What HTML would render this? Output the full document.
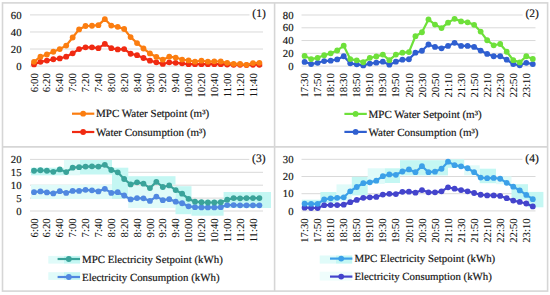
<!DOCTYPE html>
<html><head><meta charset="utf-8"><style>
html,body{margin:0;padding:0;background:#fff;width:550px;height:295px;overflow:hidden}
svg{display:block}
text{stroke:#141414;stroke-width:0.18px;text-rendering:geometricPrecision}
text.r{stroke-width:0.05px}
</style></head><body>
<svg width="550" height="295" viewBox="0 0 550 295" font-family='"Liberation Serif", serif' fill="#141414">
<rect x="0" y="0" width="550" height="295" fill="#ffffff"/>
<line x1="30" y1="66.1" x2="263" y2="66.1" stroke="#d9d9d9" stroke-width="1"/>
<line x1="30" y1="49.03" x2="263" y2="49.03" stroke="#d9d9d9" stroke-width="1"/>
<line x1="30" y1="31.97" x2="263" y2="31.97" stroke="#d9d9d9" stroke-width="1"/>
<line x1="30" y1="14.9" x2="263" y2="14.9" stroke="#d9d9d9" stroke-width="1"/>
<text x="21.5" y="69.70" text-anchor="end" font-size="10.7">0</text>
<text x="21.5" y="52.63" text-anchor="end" font-size="10.7">20</text>
<text x="21.5" y="35.57" text-anchor="end" font-size="10.7">40</text>
<text x="21.5" y="18.50" text-anchor="end" font-size="10.7">60</text>
<text transform="translate(37.60,73.2) rotate(-90)" text-anchor="end" font-size="10.7" class="r">6:00</text>
<text transform="translate(50.48,73.2) rotate(-90)" text-anchor="end" font-size="10.7" class="r">6:20</text>
<text transform="translate(63.36,73.2) rotate(-90)" text-anchor="end" font-size="10.7" class="r">6:40</text>
<text transform="translate(76.24,73.2) rotate(-90)" text-anchor="end" font-size="10.7" class="r">7:00</text>
<text transform="translate(89.12,73.2) rotate(-90)" text-anchor="end" font-size="10.7" class="r">7:20</text>
<text transform="translate(102.00,73.2) rotate(-90)" text-anchor="end" font-size="10.7" class="r">7:40</text>
<text transform="translate(114.88,73.2) rotate(-90)" text-anchor="end" font-size="10.7" class="r">8:00</text>
<text transform="translate(127.76,73.2) rotate(-90)" text-anchor="end" font-size="10.7" class="r">8:20</text>
<text transform="translate(140.64,73.2) rotate(-90)" text-anchor="end" font-size="10.7" class="r">8:40</text>
<text transform="translate(153.52,73.2) rotate(-90)" text-anchor="end" font-size="10.7" class="r">9:00</text>
<text transform="translate(166.40,73.2) rotate(-90)" text-anchor="end" font-size="10.7" class="r">9:20</text>
<text transform="translate(179.28,73.2) rotate(-90)" text-anchor="end" font-size="10.7" class="r">9:40</text>
<text transform="translate(192.16,73.2) rotate(-90)" text-anchor="end" font-size="10.7" class="r">10:00</text>
<text transform="translate(205.04,73.2) rotate(-90)" text-anchor="end" font-size="10.7" class="r">10:20</text>
<text transform="translate(217.92,73.2) rotate(-90)" text-anchor="end" font-size="10.7" class="r">10:40</text>
<text transform="translate(230.80,73.2) rotate(-90)" text-anchor="end" font-size="10.7" class="r">11:00</text>
<text transform="translate(243.68,73.2) rotate(-90)" text-anchor="end" font-size="10.7" class="r">11:20</text>
<text transform="translate(256.56,73.2) rotate(-90)" text-anchor="end" font-size="10.7" class="r">11:40</text>
<polyline points="34.00,64.39 40.44,61.83 46.88,60.55 53.32,59.27 59.76,58.42 66.20,56.71 72.64,53.30 79.08,49.03 85.52,47.33 91.96,47.33 98.40,48.18 104.84,43.91 111.28,48.18 117.72,49.46 124.16,49.03 130.60,53.73 137.04,55.18 143.48,57.99 149.92,60.64 156.36,62.35 162.80,63.97 169.24,62.35 175.68,62.86 182.12,63.37 188.56,64.22 195.00,64.22 201.44,64.22 207.88,64.22 214.32,64.22 220.76,64.22 227.20,64.56 233.64,64.73 240.08,64.73 246.52,65.08 252.96,64.73 259.40,64.73" fill="none" stroke="#f02a12" stroke-width="2.2" stroke-linejoin="round"/>
<circle cx="34.00" cy="64.39" r="2.9" fill="#f02a12"/>
<circle cx="40.44" cy="61.83" r="2.9" fill="#f02a12"/>
<circle cx="46.88" cy="60.55" r="2.9" fill="#f02a12"/>
<circle cx="53.32" cy="59.27" r="2.9" fill="#f02a12"/>
<circle cx="59.76" cy="58.42" r="2.9" fill="#f02a12"/>
<circle cx="66.20" cy="56.71" r="2.9" fill="#f02a12"/>
<circle cx="72.64" cy="53.30" r="2.9" fill="#f02a12"/>
<circle cx="79.08" cy="49.03" r="2.9" fill="#f02a12"/>
<circle cx="85.52" cy="47.33" r="2.9" fill="#f02a12"/>
<circle cx="91.96" cy="47.33" r="2.9" fill="#f02a12"/>
<circle cx="98.40" cy="48.18" r="2.9" fill="#f02a12"/>
<circle cx="104.84" cy="43.91" r="2.9" fill="#f02a12"/>
<circle cx="111.28" cy="48.18" r="2.9" fill="#f02a12"/>
<circle cx="117.72" cy="49.46" r="2.9" fill="#f02a12"/>
<circle cx="124.16" cy="49.03" r="2.9" fill="#f02a12"/>
<circle cx="130.60" cy="53.73" r="2.9" fill="#f02a12"/>
<circle cx="137.04" cy="55.18" r="2.9" fill="#f02a12"/>
<circle cx="143.48" cy="57.99" r="2.9" fill="#f02a12"/>
<circle cx="149.92" cy="60.64" r="2.9" fill="#f02a12"/>
<circle cx="156.36" cy="62.35" r="2.9" fill="#f02a12"/>
<circle cx="162.80" cy="63.97" r="2.9" fill="#f02a12"/>
<circle cx="169.24" cy="62.35" r="2.9" fill="#f02a12"/>
<circle cx="175.68" cy="62.86" r="2.9" fill="#f02a12"/>
<circle cx="182.12" cy="63.37" r="2.9" fill="#f02a12"/>
<circle cx="188.56" cy="64.22" r="2.9" fill="#f02a12"/>
<circle cx="195.00" cy="64.22" r="2.9" fill="#f02a12"/>
<circle cx="201.44" cy="64.22" r="2.9" fill="#f02a12"/>
<circle cx="207.88" cy="64.22" r="2.9" fill="#f02a12"/>
<circle cx="214.32" cy="64.22" r="2.9" fill="#f02a12"/>
<circle cx="220.76" cy="64.22" r="2.9" fill="#f02a12"/>
<circle cx="227.20" cy="64.56" r="2.9" fill="#f02a12"/>
<circle cx="233.64" cy="64.73" r="2.9" fill="#f02a12"/>
<circle cx="240.08" cy="64.73" r="2.9" fill="#f02a12"/>
<circle cx="246.52" cy="65.08" r="2.9" fill="#f02a12"/>
<circle cx="252.96" cy="64.73" r="2.9" fill="#f02a12"/>
<circle cx="259.40" cy="64.73" r="2.9" fill="#f02a12"/>
<polyline points="34.00,61.83 40.44,56.71 46.88,54.49 53.32,51.76 59.76,49.03 66.20,45.62 72.64,37.51 79.08,29.41 85.52,25.99 91.96,25.74 98.40,25.14 104.84,19.17 111.28,25.57 117.72,26.85 124.16,28.98 130.60,37.09 137.04,43.06 143.48,48.52 149.92,53.47 156.36,56.97 162.80,59.70 169.24,56.71 175.68,57.57 182.12,59.53 188.56,60.47 195.00,61.66 201.44,60.72 207.88,61.66 214.32,61.32 220.76,61.49 227.20,62.86 233.64,63.88 240.08,63.97 246.52,64.82 252.96,63.11 259.40,62.86" fill="none" stroke="#fb7d10" stroke-width="2.2" stroke-linejoin="round"/>
<circle cx="34.00" cy="61.83" r="2.9" fill="#fb7d10"/>
<circle cx="40.44" cy="56.71" r="2.9" fill="#fb7d10"/>
<circle cx="46.88" cy="54.49" r="2.9" fill="#fb7d10"/>
<circle cx="53.32" cy="51.76" r="2.9" fill="#fb7d10"/>
<circle cx="59.76" cy="49.03" r="2.9" fill="#fb7d10"/>
<circle cx="66.20" cy="45.62" r="2.9" fill="#fb7d10"/>
<circle cx="72.64" cy="37.51" r="2.9" fill="#fb7d10"/>
<circle cx="79.08" cy="29.41" r="2.9" fill="#fb7d10"/>
<circle cx="85.52" cy="25.99" r="2.9" fill="#fb7d10"/>
<circle cx="91.96" cy="25.74" r="2.9" fill="#fb7d10"/>
<circle cx="98.40" cy="25.14" r="2.9" fill="#fb7d10"/>
<circle cx="104.84" cy="19.17" r="2.9" fill="#fb7d10"/>
<circle cx="111.28" cy="25.57" r="2.9" fill="#fb7d10"/>
<circle cx="117.72" cy="26.85" r="2.9" fill="#fb7d10"/>
<circle cx="124.16" cy="28.98" r="2.9" fill="#fb7d10"/>
<circle cx="130.60" cy="37.09" r="2.9" fill="#fb7d10"/>
<circle cx="137.04" cy="43.06" r="2.9" fill="#fb7d10"/>
<circle cx="143.48" cy="48.52" r="2.9" fill="#fb7d10"/>
<circle cx="149.92" cy="53.47" r="2.9" fill="#fb7d10"/>
<circle cx="156.36" cy="56.97" r="2.9" fill="#fb7d10"/>
<circle cx="162.80" cy="59.70" r="2.9" fill="#fb7d10"/>
<circle cx="169.24" cy="56.71" r="2.9" fill="#fb7d10"/>
<circle cx="175.68" cy="57.57" r="2.9" fill="#fb7d10"/>
<circle cx="182.12" cy="59.53" r="2.9" fill="#fb7d10"/>
<circle cx="188.56" cy="60.47" r="2.9" fill="#fb7d10"/>
<circle cx="195.00" cy="61.66" r="2.9" fill="#fb7d10"/>
<circle cx="201.44" cy="60.72" r="2.9" fill="#fb7d10"/>
<circle cx="207.88" cy="61.66" r="2.9" fill="#fb7d10"/>
<circle cx="214.32" cy="61.32" r="2.9" fill="#fb7d10"/>
<circle cx="220.76" cy="61.49" r="2.9" fill="#fb7d10"/>
<circle cx="227.20" cy="62.86" r="2.9" fill="#fb7d10"/>
<circle cx="233.64" cy="63.88" r="2.9" fill="#fb7d10"/>
<circle cx="240.08" cy="63.97" r="2.9" fill="#fb7d10"/>
<circle cx="246.52" cy="64.82" r="2.9" fill="#fb7d10"/>
<circle cx="252.96" cy="63.11" r="2.9" fill="#fb7d10"/>
<circle cx="259.40" cy="62.86" r="2.9" fill="#fb7d10"/>
<line x1="72" y1="113.7" x2="94.3" y2="113.7" stroke="#fb7d10" stroke-width="2.2"/>
<circle cx="83.15" cy="113.7" r="2.9" fill="#fb7d10"/>
<text x="96" y="117.40" font-size="11.0">MPC Water Setpoint (m³)</text>
<line x1="72" y1="132" x2="94.3" y2="132" stroke="#f02a12" stroke-width="2.2"/>
<circle cx="83.15" cy="132" r="2.9" fill="#f02a12"/>
<text x="96" y="135.70" font-size="11.0">Water Consumption (m³)</text>
<rect x="249.5" y="7" width="18.5" height="13" fill="#fff"/>
<text x="252.3" y="17" font-size="11.5">(1)</text>
<line x1="301.5" y1="66.1" x2="535.5" y2="66.1" stroke="#d9d9d9" stroke-width="1"/>
<line x1="301.5" y1="53.3" x2="535.5" y2="53.3" stroke="#d9d9d9" stroke-width="1"/>
<line x1="301.5" y1="40.55" x2="535.5" y2="40.55" stroke="#d9d9d9" stroke-width="1"/>
<line x1="301.5" y1="27.8" x2="535.5" y2="27.8" stroke="#d9d9d9" stroke-width="1"/>
<line x1="301.5" y1="15" x2="535.5" y2="15" stroke="#d9d9d9" stroke-width="1"/>
<text x="293.5" y="69.70" text-anchor="end" font-size="10.7">0</text>
<text x="293.5" y="56.90" text-anchor="end" font-size="10.7">20</text>
<text x="293.5" y="44.15" text-anchor="end" font-size="10.7">40</text>
<text x="293.5" y="31.40" text-anchor="end" font-size="10.7">60</text>
<text x="293.5" y="18.60" text-anchor="end" font-size="10.7">80</text>
<text transform="translate(308.20,73.2) rotate(-90)" text-anchor="end" font-size="10.7" class="r">17:30</text>
<text transform="translate(321.24,73.2) rotate(-90)" text-anchor="end" font-size="10.7" class="r">17:50</text>
<text transform="translate(334.28,73.2) rotate(-90)" text-anchor="end" font-size="10.7" class="r">18:10</text>
<text transform="translate(347.32,73.2) rotate(-90)" text-anchor="end" font-size="10.7" class="r">18:30</text>
<text transform="translate(360.36,73.2) rotate(-90)" text-anchor="end" font-size="10.7" class="r">18:50</text>
<text transform="translate(373.40,73.2) rotate(-90)" text-anchor="end" font-size="10.7" class="r">19:10</text>
<text transform="translate(386.44,73.2) rotate(-90)" text-anchor="end" font-size="10.7" class="r">19:30</text>
<text transform="translate(399.48,73.2) rotate(-90)" text-anchor="end" font-size="10.7" class="r">19:50</text>
<text transform="translate(412.52,73.2) rotate(-90)" text-anchor="end" font-size="10.7" class="r">20:10</text>
<text transform="translate(425.56,73.2) rotate(-90)" text-anchor="end" font-size="10.7" class="r">20:30</text>
<text transform="translate(438.60,73.2) rotate(-90)" text-anchor="end" font-size="10.7" class="r">20:50</text>
<text transform="translate(451.64,73.2) rotate(-90)" text-anchor="end" font-size="10.7" class="r">21:10</text>
<text transform="translate(464.68,73.2) rotate(-90)" text-anchor="end" font-size="10.7" class="r">21:30</text>
<text transform="translate(477.72,73.2) rotate(-90)" text-anchor="end" font-size="10.7" class="r">21:50</text>
<text transform="translate(490.76,73.2) rotate(-90)" text-anchor="end" font-size="10.7" class="r">22:10</text>
<text transform="translate(503.80,73.2) rotate(-90)" text-anchor="end" font-size="10.7" class="r">22:30</text>
<text transform="translate(516.84,73.2) rotate(-90)" text-anchor="end" font-size="10.7" class="r">22:50</text>
<text transform="translate(529.88,73.2) rotate(-90)" text-anchor="end" font-size="10.7" class="r">23:10</text>
<polyline points="304.60,61.88 311.12,64.06 317.64,62.78 324.16,61.05 330.68,60.67 337.20,59.39 343.72,56.26 350.24,63.35 356.76,64.31 363.28,65.40 369.80,63.54 376.32,62.65 382.84,61.63 389.36,64.69 395.88,61.63 402.40,59.71 408.92,59.27 415.44,52.69 421.96,50.77 428.48,44.51 435.00,46.94 441.52,48.28 448.04,45.92 454.56,42.85 461.08,45.92 467.60,45.92 474.12,46.94 480.64,50.58 487.16,53.96 493.68,56.26 500.20,56.26 506.72,59.71 513.24,64.12 519.76,65.27 526.28,62.78 532.80,64.12" fill="none" stroke="#2f5fd0" stroke-width="2.2" stroke-linejoin="round"/>
<circle cx="304.60" cy="61.88" r="2.9" fill="#2f5fd0"/>
<circle cx="311.12" cy="64.06" r="2.9" fill="#2f5fd0"/>
<circle cx="317.64" cy="62.78" r="2.9" fill="#2f5fd0"/>
<circle cx="324.16" cy="61.05" r="2.9" fill="#2f5fd0"/>
<circle cx="330.68" cy="60.67" r="2.9" fill="#2f5fd0"/>
<circle cx="337.20" cy="59.39" r="2.9" fill="#2f5fd0"/>
<circle cx="343.72" cy="56.26" r="2.9" fill="#2f5fd0"/>
<circle cx="350.24" cy="63.35" r="2.9" fill="#2f5fd0"/>
<circle cx="356.76" cy="64.31" r="2.9" fill="#2f5fd0"/>
<circle cx="363.28" cy="65.40" r="2.9" fill="#2f5fd0"/>
<circle cx="369.80" cy="63.54" r="2.9" fill="#2f5fd0"/>
<circle cx="376.32" cy="62.65" r="2.9" fill="#2f5fd0"/>
<circle cx="382.84" cy="61.63" r="2.9" fill="#2f5fd0"/>
<circle cx="389.36" cy="64.69" r="2.9" fill="#2f5fd0"/>
<circle cx="395.88" cy="61.63" r="2.9" fill="#2f5fd0"/>
<circle cx="402.40" cy="59.71" r="2.9" fill="#2f5fd0"/>
<circle cx="408.92" cy="59.27" r="2.9" fill="#2f5fd0"/>
<circle cx="415.44" cy="52.69" r="2.9" fill="#2f5fd0"/>
<circle cx="421.96" cy="50.77" r="2.9" fill="#2f5fd0"/>
<circle cx="428.48" cy="44.51" r="2.9" fill="#2f5fd0"/>
<circle cx="435.00" cy="46.94" r="2.9" fill="#2f5fd0"/>
<circle cx="441.52" cy="48.28" r="2.9" fill="#2f5fd0"/>
<circle cx="448.04" cy="45.92" r="2.9" fill="#2f5fd0"/>
<circle cx="454.56" cy="42.85" r="2.9" fill="#2f5fd0"/>
<circle cx="461.08" cy="45.92" r="2.9" fill="#2f5fd0"/>
<circle cx="467.60" cy="45.92" r="2.9" fill="#2f5fd0"/>
<circle cx="474.12" cy="46.94" r="2.9" fill="#2f5fd0"/>
<circle cx="480.64" cy="50.58" r="2.9" fill="#2f5fd0"/>
<circle cx="487.16" cy="53.96" r="2.9" fill="#2f5fd0"/>
<circle cx="493.68" cy="56.26" r="2.9" fill="#2f5fd0"/>
<circle cx="500.20" cy="56.26" r="2.9" fill="#2f5fd0"/>
<circle cx="506.72" cy="59.71" r="2.9" fill="#2f5fd0"/>
<circle cx="513.24" cy="64.12" r="2.9" fill="#2f5fd0"/>
<circle cx="519.76" cy="65.27" r="2.9" fill="#2f5fd0"/>
<circle cx="526.28" cy="62.78" r="2.9" fill="#2f5fd0"/>
<circle cx="532.80" cy="64.12" r="2.9" fill="#2f5fd0"/>
<polyline points="304.60,55.88 311.12,59.07 317.64,57.80 324.16,55.24 330.68,53.32 337.20,50.51 343.72,45.66 350.24,59.07 356.76,60.35 363.28,62.27 369.80,57.80 376.32,56.52 382.84,54.60 389.36,60.16 395.88,54.60 402.40,52.69 408.92,52.05 415.44,36.21 421.96,32.25 428.48,19.47 435.00,24.58 441.52,28.09 448.04,22.66 454.56,18.83 461.08,21.39 467.60,22.35 474.12,24.84 480.64,31.61 487.16,40.23 493.68,45.28 500.20,44.00 506.72,51.73 513.24,60.16 519.76,62.40 526.28,56.26 532.80,58.95" fill="none" stroke="#6ee03a" stroke-width="2.2" stroke-linejoin="round"/>
<circle cx="304.60" cy="55.88" r="2.9" fill="#6ee03a"/>
<circle cx="311.12" cy="59.07" r="2.9" fill="#6ee03a"/>
<circle cx="317.64" cy="57.80" r="2.9" fill="#6ee03a"/>
<circle cx="324.16" cy="55.24" r="2.9" fill="#6ee03a"/>
<circle cx="330.68" cy="53.32" r="2.9" fill="#6ee03a"/>
<circle cx="337.20" cy="50.51" r="2.9" fill="#6ee03a"/>
<circle cx="343.72" cy="45.66" r="2.9" fill="#6ee03a"/>
<circle cx="350.24" cy="59.07" r="2.9" fill="#6ee03a"/>
<circle cx="356.76" cy="60.35" r="2.9" fill="#6ee03a"/>
<circle cx="363.28" cy="62.27" r="2.9" fill="#6ee03a"/>
<circle cx="369.80" cy="57.80" r="2.9" fill="#6ee03a"/>
<circle cx="376.32" cy="56.52" r="2.9" fill="#6ee03a"/>
<circle cx="382.84" cy="54.60" r="2.9" fill="#6ee03a"/>
<circle cx="389.36" cy="60.16" r="2.9" fill="#6ee03a"/>
<circle cx="395.88" cy="54.60" r="2.9" fill="#6ee03a"/>
<circle cx="402.40" cy="52.69" r="2.9" fill="#6ee03a"/>
<circle cx="408.92" cy="52.05" r="2.9" fill="#6ee03a"/>
<circle cx="415.44" cy="36.21" r="2.9" fill="#6ee03a"/>
<circle cx="421.96" cy="32.25" r="2.9" fill="#6ee03a"/>
<circle cx="428.48" cy="19.47" r="2.9" fill="#6ee03a"/>
<circle cx="435.00" cy="24.58" r="2.9" fill="#6ee03a"/>
<circle cx="441.52" cy="28.09" r="2.9" fill="#6ee03a"/>
<circle cx="448.04" cy="22.66" r="2.9" fill="#6ee03a"/>
<circle cx="454.56" cy="18.83" r="2.9" fill="#6ee03a"/>
<circle cx="461.08" cy="21.39" r="2.9" fill="#6ee03a"/>
<circle cx="467.60" cy="22.35" r="2.9" fill="#6ee03a"/>
<circle cx="474.12" cy="24.84" r="2.9" fill="#6ee03a"/>
<circle cx="480.64" cy="31.61" r="2.9" fill="#6ee03a"/>
<circle cx="487.16" cy="40.23" r="2.9" fill="#6ee03a"/>
<circle cx="493.68" cy="45.28" r="2.9" fill="#6ee03a"/>
<circle cx="500.20" cy="44.00" r="2.9" fill="#6ee03a"/>
<circle cx="506.72" cy="51.73" r="2.9" fill="#6ee03a"/>
<circle cx="513.24" cy="60.16" r="2.9" fill="#6ee03a"/>
<circle cx="519.76" cy="62.40" r="2.9" fill="#6ee03a"/>
<circle cx="526.28" cy="56.26" r="2.9" fill="#6ee03a"/>
<circle cx="532.80" cy="58.95" r="2.9" fill="#6ee03a"/>
<line x1="344.4" y1="113.9" x2="366.8" y2="113.9" stroke="#6ee03a" stroke-width="2.2"/>
<circle cx="355.60" cy="113.9" r="2.9" fill="#6ee03a"/>
<text x="368.5" y="117.60" font-size="11.0">MPC Water Setpoint (m³)</text>
<line x1="344.4" y1="131.9" x2="366.8" y2="131.9" stroke="#2f5fd0" stroke-width="2.2"/>
<circle cx="355.60" cy="131.9" r="2.9" fill="#2f5fd0"/>
<text x="368.5" y="135.60" font-size="11.0">Water Consumption (m³)</text>
<rect x="522.6" y="7" width="18.5" height="13" fill="#fff"/>
<text x="525.4" y="17" font-size="11.5">(2)</text>
<line x1="30" y1="211" x2="263" y2="211" stroke="#d9d9d9" stroke-width="1"/>
<line x1="30" y1="198.1" x2="263" y2="198.1" stroke="#d9d9d9" stroke-width="1"/>
<line x1="30" y1="185.2" x2="263" y2="185.2" stroke="#d9d9d9" stroke-width="1"/>
<line x1="30" y1="172.3" x2="263" y2="172.3" stroke="#d9d9d9" stroke-width="1"/>
<line x1="30" y1="159.4" x2="263" y2="159.4" stroke="#d9d9d9" stroke-width="1"/>
<rect x="31" y="167.7" width="33" height="7.6" fill="#c4f7f3"/>
<rect x="64" y="160" width="16" height="15.3" fill="#e0fbf9"/>
<rect x="80" y="160" width="32" height="14.5" fill="#c4f7f3"/>
<rect x="112" y="167.7" width="16.3" height="31" fill="#c4f7f3"/>
<rect x="128.2" y="176.2" width="47.3" height="8.4" fill="#c4f7f3"/>
<rect x="128.2" y="186" width="47.3" height="22" fill="#e0fbf9"/>
<rect x="175.5" y="186.2" width="16" height="28" fill="#c4f7f3"/>
<rect x="191.4" y="199.7" width="32.2" height="16" fill="#c4f7f3"/>
<rect x="223.6" y="192" width="47.4" height="16" fill="#c4f7f3"/>
<rect x="31" y="184.7" width="81" height="14.3" fill="#e0fbf9"/>
<rect x="48.3" y="255.9" width="15.7" height="7.7" fill="#e0fbf9"/>
<rect x="64" y="255.9" width="16.2" height="7.7" fill="#c4f7f3"/>
<rect x="48.3" y="272.2" width="15.7" height="7.7" fill="#e0fbf9"/>
<rect x="64" y="272.2" width="16.2" height="7.7" fill="#c4f7f3"/>
<text x="21.5" y="214.60" text-anchor="end" font-size="10.7">0</text>
<text x="21.5" y="201.70" text-anchor="end" font-size="10.7">5</text>
<text x="21.5" y="188.80" text-anchor="end" font-size="10.7">10</text>
<text x="21.5" y="175.90" text-anchor="end" font-size="10.7">15</text>
<text x="21.5" y="163.00" text-anchor="end" font-size="10.7">20</text>
<text transform="translate(37.60,218.4) rotate(-90)" text-anchor="end" font-size="10.7" class="r">6:00</text>
<text transform="translate(50.48,218.4) rotate(-90)" text-anchor="end" font-size="10.7" class="r">6:20</text>
<text transform="translate(63.36,218.4) rotate(-90)" text-anchor="end" font-size="10.7" class="r">6:40</text>
<text transform="translate(76.24,218.4) rotate(-90)" text-anchor="end" font-size="10.7" class="r">7:00</text>
<text transform="translate(89.12,218.4) rotate(-90)" text-anchor="end" font-size="10.7" class="r">7:20</text>
<text transform="translate(102.00,218.4) rotate(-90)" text-anchor="end" font-size="10.7" class="r">7:40</text>
<text transform="translate(114.88,218.4) rotate(-90)" text-anchor="end" font-size="10.7" class="r">8:00</text>
<text transform="translate(127.76,218.4) rotate(-90)" text-anchor="end" font-size="10.7" class="r">8:20</text>
<text transform="translate(140.64,218.4) rotate(-90)" text-anchor="end" font-size="10.7" class="r">8:40</text>
<text transform="translate(153.52,218.4) rotate(-90)" text-anchor="end" font-size="10.7" class="r">9:00</text>
<text transform="translate(166.40,218.4) rotate(-90)" text-anchor="end" font-size="10.7" class="r">9:20</text>
<text transform="translate(179.28,218.4) rotate(-90)" text-anchor="end" font-size="10.7" class="r">9:40</text>
<text transform="translate(192.16,218.4) rotate(-90)" text-anchor="end" font-size="10.7" class="r">10:00</text>
<text transform="translate(205.04,218.4) rotate(-90)" text-anchor="end" font-size="10.7" class="r">10:20</text>
<text transform="translate(217.92,218.4) rotate(-90)" text-anchor="end" font-size="10.7" class="r">10:40</text>
<text transform="translate(230.80,218.4) rotate(-90)" text-anchor="end" font-size="10.7" class="r">11:00</text>
<text transform="translate(243.68,218.4) rotate(-90)" text-anchor="end" font-size="10.7" class="r">11:20</text>
<text transform="translate(256.56,218.4) rotate(-90)" text-anchor="end" font-size="10.7" class="r">11:40</text>
<polyline points="34.00,192.17 40.44,191.39 46.88,192.42 53.32,193.46 59.76,191.13 66.20,192.94 72.64,190.88 79.08,190.88 85.52,189.84 91.96,190.36 98.40,191.39 104.84,188.81 111.28,192.94 117.72,192.17 124.16,195.52 130.60,199.39 137.04,198.10 143.48,198.36 149.92,200.94 156.36,196.55 162.80,200.16 169.24,199.13 175.68,201.71 182.12,203.26 188.56,206.36 195.00,207.13 201.44,207.39 207.88,207.39 214.32,207.39 220.76,207.13 227.20,205.07 233.64,205.07 240.08,205.32 246.52,205.32 252.96,205.32 259.40,205.32" fill="none" stroke="#5088e0" stroke-width="2.2" stroke-linejoin="round"/>
<circle cx="34.00" cy="192.17" r="2.9" fill="#5088e0"/>
<circle cx="40.44" cy="191.39" r="2.9" fill="#5088e0"/>
<circle cx="46.88" cy="192.42" r="2.9" fill="#5088e0"/>
<circle cx="53.32" cy="193.46" r="2.9" fill="#5088e0"/>
<circle cx="59.76" cy="191.13" r="2.9" fill="#5088e0"/>
<circle cx="66.20" cy="192.94" r="2.9" fill="#5088e0"/>
<circle cx="72.64" cy="190.88" r="2.9" fill="#5088e0"/>
<circle cx="79.08" cy="190.88" r="2.9" fill="#5088e0"/>
<circle cx="85.52" cy="189.84" r="2.9" fill="#5088e0"/>
<circle cx="91.96" cy="190.36" r="2.9" fill="#5088e0"/>
<circle cx="98.40" cy="191.39" r="2.9" fill="#5088e0"/>
<circle cx="104.84" cy="188.81" r="2.9" fill="#5088e0"/>
<circle cx="111.28" cy="192.94" r="2.9" fill="#5088e0"/>
<circle cx="117.72" cy="192.17" r="2.9" fill="#5088e0"/>
<circle cx="124.16" cy="195.52" r="2.9" fill="#5088e0"/>
<circle cx="130.60" cy="199.39" r="2.9" fill="#5088e0"/>
<circle cx="137.04" cy="198.10" r="2.9" fill="#5088e0"/>
<circle cx="143.48" cy="198.36" r="2.9" fill="#5088e0"/>
<circle cx="149.92" cy="200.94" r="2.9" fill="#5088e0"/>
<circle cx="156.36" cy="196.55" r="2.9" fill="#5088e0"/>
<circle cx="162.80" cy="200.16" r="2.9" fill="#5088e0"/>
<circle cx="169.24" cy="199.13" r="2.9" fill="#5088e0"/>
<circle cx="175.68" cy="201.71" r="2.9" fill="#5088e0"/>
<circle cx="182.12" cy="203.26" r="2.9" fill="#5088e0"/>
<circle cx="188.56" cy="206.36" r="2.9" fill="#5088e0"/>
<circle cx="195.00" cy="207.13" r="2.9" fill="#5088e0"/>
<circle cx="201.44" cy="207.39" r="2.9" fill="#5088e0"/>
<circle cx="207.88" cy="207.39" r="2.9" fill="#5088e0"/>
<circle cx="214.32" cy="207.39" r="2.9" fill="#5088e0"/>
<circle cx="220.76" cy="207.13" r="2.9" fill="#5088e0"/>
<circle cx="227.20" cy="205.07" r="2.9" fill="#5088e0"/>
<circle cx="233.64" cy="205.07" r="2.9" fill="#5088e0"/>
<circle cx="240.08" cy="205.32" r="2.9" fill="#5088e0"/>
<circle cx="246.52" cy="205.32" r="2.9" fill="#5088e0"/>
<circle cx="252.96" cy="205.32" r="2.9" fill="#5088e0"/>
<circle cx="259.40" cy="205.32" r="2.9" fill="#5088e0"/>
<polyline points="34.00,170.75 40.44,170.24 46.88,170.75 53.32,171.78 59.76,169.46 66.20,172.04 72.64,167.66 79.08,167.14 85.52,166.62 91.96,166.37 98.40,166.62 104.84,164.82 111.28,169.98 117.72,172.30 124.16,179.01 130.60,184.43 137.04,182.36 143.48,183.65 149.92,188.04 156.36,181.85 162.80,187.01 169.24,185.46 175.68,190.10 182.12,193.71 188.56,198.87 195.00,201.71 201.44,202.23 207.88,202.49 214.32,202.49 220.76,202.23 227.20,199.65 233.64,198.10 240.08,198.36 246.52,198.10 252.96,198.10 259.40,198.10" fill="none" stroke="#3aa39a" stroke-width="2.2" stroke-linejoin="round"/>
<circle cx="34.00" cy="170.75" r="2.9" fill="#3aa39a"/>
<circle cx="40.44" cy="170.24" r="2.9" fill="#3aa39a"/>
<circle cx="46.88" cy="170.75" r="2.9" fill="#3aa39a"/>
<circle cx="53.32" cy="171.78" r="2.9" fill="#3aa39a"/>
<circle cx="59.76" cy="169.46" r="2.9" fill="#3aa39a"/>
<circle cx="66.20" cy="172.04" r="2.9" fill="#3aa39a"/>
<circle cx="72.64" cy="167.66" r="2.9" fill="#3aa39a"/>
<circle cx="79.08" cy="167.14" r="2.9" fill="#3aa39a"/>
<circle cx="85.52" cy="166.62" r="2.9" fill="#3aa39a"/>
<circle cx="91.96" cy="166.37" r="2.9" fill="#3aa39a"/>
<circle cx="98.40" cy="166.62" r="2.9" fill="#3aa39a"/>
<circle cx="104.84" cy="164.82" r="2.9" fill="#3aa39a"/>
<circle cx="111.28" cy="169.98" r="2.9" fill="#3aa39a"/>
<circle cx="117.72" cy="172.30" r="2.9" fill="#3aa39a"/>
<circle cx="124.16" cy="179.01" r="2.9" fill="#3aa39a"/>
<circle cx="130.60" cy="184.43" r="2.9" fill="#3aa39a"/>
<circle cx="137.04" cy="182.36" r="2.9" fill="#3aa39a"/>
<circle cx="143.48" cy="183.65" r="2.9" fill="#3aa39a"/>
<circle cx="149.92" cy="188.04" r="2.9" fill="#3aa39a"/>
<circle cx="156.36" cy="181.85" r="2.9" fill="#3aa39a"/>
<circle cx="162.80" cy="187.01" r="2.9" fill="#3aa39a"/>
<circle cx="169.24" cy="185.46" r="2.9" fill="#3aa39a"/>
<circle cx="175.68" cy="190.10" r="2.9" fill="#3aa39a"/>
<circle cx="182.12" cy="193.71" r="2.9" fill="#3aa39a"/>
<circle cx="188.56" cy="198.87" r="2.9" fill="#3aa39a"/>
<circle cx="195.00" cy="201.71" r="2.9" fill="#3aa39a"/>
<circle cx="201.44" cy="202.23" r="2.9" fill="#3aa39a"/>
<circle cx="207.88" cy="202.49" r="2.9" fill="#3aa39a"/>
<circle cx="214.32" cy="202.49" r="2.9" fill="#3aa39a"/>
<circle cx="220.76" cy="202.23" r="2.9" fill="#3aa39a"/>
<circle cx="227.20" cy="199.65" r="2.9" fill="#3aa39a"/>
<circle cx="233.64" cy="198.10" r="2.9" fill="#3aa39a"/>
<circle cx="240.08" cy="198.36" r="2.9" fill="#3aa39a"/>
<circle cx="246.52" cy="198.10" r="2.9" fill="#3aa39a"/>
<circle cx="252.96" cy="198.10" r="2.9" fill="#3aa39a"/>
<circle cx="259.40" cy="198.10" r="2.9" fill="#3aa39a"/>
<line x1="57.6" y1="259" x2="80" y2="259" stroke="#3aa39a" stroke-width="2.2"/>
<circle cx="68.80" cy="259" r="2.9" fill="#3aa39a"/>
<text x="82" y="262.70" font-size="10.87">MPC Electricity Setpoint (kWh)</text>
<line x1="57.6" y1="277" x2="80" y2="277" stroke="#5088e0" stroke-width="2.2"/>
<circle cx="68.80" cy="277" r="2.9" fill="#5088e0"/>
<text x="82" y="280.70" font-size="10.87">Electricity Consumption (kWh)</text>
<rect x="249.29999999999998" y="152" width="18.5" height="13" fill="#fff"/>
<text x="252.1" y="162" font-size="11.5">(3)</text>
<line x1="301.5" y1="210.9" x2="535.5" y2="210.9" stroke="#d9d9d9" stroke-width="1"/>
<line x1="301.5" y1="193.7" x2="535.5" y2="193.7" stroke="#d9d9d9" stroke-width="1"/>
<line x1="301.5" y1="176.5" x2="535.5" y2="176.5" stroke="#d9d9d9" stroke-width="1"/>
<line x1="301.5" y1="159.3" x2="535.5" y2="159.3" stroke="#d9d9d9" stroke-width="1"/>
<rect x="301.8" y="199.7" width="18.6" height="9.3" fill="#c4f7f3"/>
<rect x="320.4" y="192" width="16.1" height="11" fill="#c4f7f3"/>
<rect x="336.5" y="184.4" width="15.3" height="17" fill="#e0fbf9"/>
<rect x="351.8" y="176.8" width="15.9" height="18.6" fill="#c4f7f3"/>
<rect x="367.7" y="168.3" width="17" height="15.6" fill="#e0fbf9"/>
<rect x="384.7" y="168.3" width="15.3" height="14.7" fill="#c4f7f3"/>
<rect x="400" y="160.2" width="48" height="15.2" fill="#c4f7f3"/>
<rect x="448" y="159.3" width="16.2" height="8.5" fill="#c4f7f3"/>
<rect x="464.2" y="165.3" width="15.5" height="10" fill="#e0fbf9"/>
<rect x="479.7" y="168.7" width="16.3" height="14.5" fill="#c4f7f3"/>
<rect x="496" y="176.4" width="15.5" height="7.8" fill="#e0fbf9"/>
<rect x="511.5" y="184.2" width="16.5" height="15.4" fill="#c4f7f3"/>
<rect x="528" y="191.9" width="15.4" height="15.4" fill="#c4f7f3"/>
<rect x="319.7" y="255.5" width="16.3" height="8.1" fill="#e0fbf9"/>
<rect x="336" y="255.5" width="16.2" height="8.1" fill="#c4f7f3"/>
<rect x="319.7" y="271.7" width="32.5" height="8.9" fill="#effdfc"/>
<text x="293.5" y="214.50" text-anchor="end" font-size="10.7">0</text>
<text x="293.5" y="197.30" text-anchor="end" font-size="10.7">10</text>
<text x="293.5" y="180.10" text-anchor="end" font-size="10.7">20</text>
<text x="293.5" y="162.90" text-anchor="end" font-size="10.7">30</text>
<text transform="translate(308.20,218.4) rotate(-90)" text-anchor="end" font-size="10.7" class="r">17:30</text>
<text transform="translate(321.24,218.4) rotate(-90)" text-anchor="end" font-size="10.7" class="r">17:50</text>
<text transform="translate(334.28,218.4) rotate(-90)" text-anchor="end" font-size="10.7" class="r">18:10</text>
<text transform="translate(347.32,218.4) rotate(-90)" text-anchor="end" font-size="10.7" class="r">18:30</text>
<text transform="translate(360.36,218.4) rotate(-90)" text-anchor="end" font-size="10.7" class="r">18:50</text>
<text transform="translate(373.40,218.4) rotate(-90)" text-anchor="end" font-size="10.7" class="r">19:10</text>
<text transform="translate(386.44,218.4) rotate(-90)" text-anchor="end" font-size="10.7" class="r">19:30</text>
<text transform="translate(399.48,218.4) rotate(-90)" text-anchor="end" font-size="10.7" class="r">19:50</text>
<text transform="translate(412.52,218.4) rotate(-90)" text-anchor="end" font-size="10.7" class="r">20:10</text>
<text transform="translate(425.56,218.4) rotate(-90)" text-anchor="end" font-size="10.7" class="r">20:30</text>
<text transform="translate(438.60,218.4) rotate(-90)" text-anchor="end" font-size="10.7" class="r">20:50</text>
<text transform="translate(451.64,218.4) rotate(-90)" text-anchor="end" font-size="10.7" class="r">21:10</text>
<text transform="translate(464.68,218.4) rotate(-90)" text-anchor="end" font-size="10.7" class="r">21:30</text>
<text transform="translate(477.72,218.4) rotate(-90)" text-anchor="end" font-size="10.7" class="r">21:50</text>
<text transform="translate(490.76,218.4) rotate(-90)" text-anchor="end" font-size="10.7" class="r">22:10</text>
<text transform="translate(503.80,218.4) rotate(-90)" text-anchor="end" font-size="10.7" class="r">22:30</text>
<text transform="translate(516.84,218.4) rotate(-90)" text-anchor="end" font-size="10.7" class="r">22:50</text>
<text transform="translate(529.88,218.4) rotate(-90)" text-anchor="end" font-size="10.7" class="r">23:10</text>
<polyline points="304.60,207.63 311.12,207.98 317.64,207.98 324.16,205.22 330.68,205.05 337.20,205.05 343.72,204.71 350.24,202.13 356.76,199.89 363.28,197.83 369.80,197.31 376.32,196.97 382.84,194.56 389.36,193.87 395.88,194.04 402.40,191.81 408.92,191.64 415.44,192.67 421.96,190.09 428.48,192.32 435.00,192.32 441.52,191.29 448.04,187.34 454.56,188.71 461.08,190.09 467.60,191.29 474.12,193.01 480.64,194.73 487.16,195.42 493.68,195.42 500.20,195.94 506.72,198.17 513.24,200.58 519.76,201.96 526.28,203.50 532.80,206.43" fill="none" stroke="#4444cc" stroke-width="2.2" stroke-linejoin="round"/>
<circle cx="304.60" cy="207.63" r="2.9" fill="#4444cc"/>
<circle cx="311.12" cy="207.98" r="2.9" fill="#4444cc"/>
<circle cx="317.64" cy="207.98" r="2.9" fill="#4444cc"/>
<circle cx="324.16" cy="205.22" r="2.9" fill="#4444cc"/>
<circle cx="330.68" cy="205.05" r="2.9" fill="#4444cc"/>
<circle cx="337.20" cy="205.05" r="2.9" fill="#4444cc"/>
<circle cx="343.72" cy="204.71" r="2.9" fill="#4444cc"/>
<circle cx="350.24" cy="202.13" r="2.9" fill="#4444cc"/>
<circle cx="356.76" cy="199.89" r="2.9" fill="#4444cc"/>
<circle cx="363.28" cy="197.83" r="2.9" fill="#4444cc"/>
<circle cx="369.80" cy="197.31" r="2.9" fill="#4444cc"/>
<circle cx="376.32" cy="196.97" r="2.9" fill="#4444cc"/>
<circle cx="382.84" cy="194.56" r="2.9" fill="#4444cc"/>
<circle cx="389.36" cy="193.87" r="2.9" fill="#4444cc"/>
<circle cx="395.88" cy="194.04" r="2.9" fill="#4444cc"/>
<circle cx="402.40" cy="191.81" r="2.9" fill="#4444cc"/>
<circle cx="408.92" cy="191.64" r="2.9" fill="#4444cc"/>
<circle cx="415.44" cy="192.67" r="2.9" fill="#4444cc"/>
<circle cx="421.96" cy="190.09" r="2.9" fill="#4444cc"/>
<circle cx="428.48" cy="192.32" r="2.9" fill="#4444cc"/>
<circle cx="435.00" cy="192.32" r="2.9" fill="#4444cc"/>
<circle cx="441.52" cy="191.29" r="2.9" fill="#4444cc"/>
<circle cx="448.04" cy="187.34" r="2.9" fill="#4444cc"/>
<circle cx="454.56" cy="188.71" r="2.9" fill="#4444cc"/>
<circle cx="461.08" cy="190.09" r="2.9" fill="#4444cc"/>
<circle cx="467.60" cy="191.29" r="2.9" fill="#4444cc"/>
<circle cx="474.12" cy="193.01" r="2.9" fill="#4444cc"/>
<circle cx="480.64" cy="194.73" r="2.9" fill="#4444cc"/>
<circle cx="487.16" cy="195.42" r="2.9" fill="#4444cc"/>
<circle cx="493.68" cy="195.42" r="2.9" fill="#4444cc"/>
<circle cx="500.20" cy="195.94" r="2.9" fill="#4444cc"/>
<circle cx="506.72" cy="198.17" r="2.9" fill="#4444cc"/>
<circle cx="513.24" cy="200.58" r="2.9" fill="#4444cc"/>
<circle cx="519.76" cy="201.96" r="2.9" fill="#4444cc"/>
<circle cx="526.28" cy="203.50" r="2.9" fill="#4444cc"/>
<circle cx="532.80" cy="206.43" r="2.9" fill="#4444cc"/>
<polyline points="304.60,203.68 311.12,203.85 317.64,203.85 324.16,199.38 330.68,198.34 337.20,197.83 343.72,197.31 350.24,191.29 356.76,186.99 363.28,183.21 369.80,182.35 376.32,180.63 382.84,176.16 389.36,174.44 395.88,174.78 402.40,171.51 408.92,169.45 415.44,172.20 421.96,166.18 428.48,172.20 435.00,171.68 441.52,168.76 448.04,161.71 454.56,165.15 461.08,166.35 467.60,168.24 474.12,172.20 480.64,177.53 487.16,178.22 493.68,177.88 500.20,178.74 506.72,182.86 513.24,186.65 519.76,190.43 526.28,194.90 532.80,199.20" fill="none" stroke="#3ca0e8" stroke-width="2.2" stroke-linejoin="round"/>
<circle cx="304.60" cy="203.68" r="2.9" fill="#3ca0e8"/>
<circle cx="311.12" cy="203.85" r="2.9" fill="#3ca0e8"/>
<circle cx="317.64" cy="203.85" r="2.9" fill="#3ca0e8"/>
<circle cx="324.16" cy="199.38" r="2.9" fill="#3ca0e8"/>
<circle cx="330.68" cy="198.34" r="2.9" fill="#3ca0e8"/>
<circle cx="337.20" cy="197.83" r="2.9" fill="#3ca0e8"/>
<circle cx="343.72" cy="197.31" r="2.9" fill="#3ca0e8"/>
<circle cx="350.24" cy="191.29" r="2.9" fill="#3ca0e8"/>
<circle cx="356.76" cy="186.99" r="2.9" fill="#3ca0e8"/>
<circle cx="363.28" cy="183.21" r="2.9" fill="#3ca0e8"/>
<circle cx="369.80" cy="182.35" r="2.9" fill="#3ca0e8"/>
<circle cx="376.32" cy="180.63" r="2.9" fill="#3ca0e8"/>
<circle cx="382.84" cy="176.16" r="2.9" fill="#3ca0e8"/>
<circle cx="389.36" cy="174.44" r="2.9" fill="#3ca0e8"/>
<circle cx="395.88" cy="174.78" r="2.9" fill="#3ca0e8"/>
<circle cx="402.40" cy="171.51" r="2.9" fill="#3ca0e8"/>
<circle cx="408.92" cy="169.45" r="2.9" fill="#3ca0e8"/>
<circle cx="415.44" cy="172.20" r="2.9" fill="#3ca0e8"/>
<circle cx="421.96" cy="166.18" r="2.9" fill="#3ca0e8"/>
<circle cx="428.48" cy="172.20" r="2.9" fill="#3ca0e8"/>
<circle cx="435.00" cy="171.68" r="2.9" fill="#3ca0e8"/>
<circle cx="441.52" cy="168.76" r="2.9" fill="#3ca0e8"/>
<circle cx="448.04" cy="161.71" r="2.9" fill="#3ca0e8"/>
<circle cx="454.56" cy="165.15" r="2.9" fill="#3ca0e8"/>
<circle cx="461.08" cy="166.35" r="2.9" fill="#3ca0e8"/>
<circle cx="467.60" cy="168.24" r="2.9" fill="#3ca0e8"/>
<circle cx="474.12" cy="172.20" r="2.9" fill="#3ca0e8"/>
<circle cx="480.64" cy="177.53" r="2.9" fill="#3ca0e8"/>
<circle cx="487.16" cy="178.22" r="2.9" fill="#3ca0e8"/>
<circle cx="493.68" cy="177.88" r="2.9" fill="#3ca0e8"/>
<circle cx="500.20" cy="178.74" r="2.9" fill="#3ca0e8"/>
<circle cx="506.72" cy="182.86" r="2.9" fill="#3ca0e8"/>
<circle cx="513.24" cy="186.65" r="2.9" fill="#3ca0e8"/>
<circle cx="519.76" cy="190.43" r="2.9" fill="#3ca0e8"/>
<circle cx="526.28" cy="194.90" r="2.9" fill="#3ca0e8"/>
<circle cx="532.80" cy="199.20" r="2.9" fill="#3ca0e8"/>
<line x1="330" y1="258.6" x2="352.4" y2="258.6" stroke="#3ca0e8" stroke-width="2.2"/>
<circle cx="341.20" cy="258.6" r="2.9" fill="#3ca0e8"/>
<text x="354.4" y="262.30" font-size="10.87">MPC Electricity Setpoint (kWh)</text>
<line x1="330" y1="276.6" x2="352.4" y2="276.6" stroke="#4444cc" stroke-width="2.2"/>
<circle cx="341.20" cy="276.6" r="2.9" fill="#4444cc"/>
<text x="354.4" y="280.30" font-size="10.87">Electricity Consumption (kWh)</text>
<rect x="522.5" y="152" width="18.5" height="13" fill="#fff"/>
<text x="525.3" y="162" font-size="11.5">(4)</text>
<rect x="2.5" y="2.9" width="545.1" height="288.2" fill="none" stroke="#d6d6d6" stroke-width="1.6"/>
<line x1="274.6" y1="2.9" x2="274.6" y2="291.1" stroke="#d6d6d6" stroke-width="1.6"/>
<line x1="2.5" y1="146.8" x2="547.6" y2="146.8" stroke="#d6d6d6" stroke-width="1.8"/>
</svg>
</body></html>
